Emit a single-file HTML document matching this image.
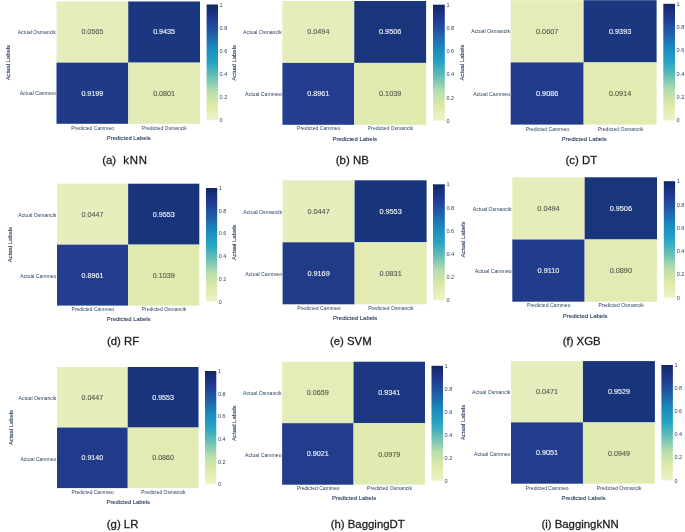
<!DOCTYPE html><html><head><meta charset="utf-8"><style>html,body{margin:0;padding:0;background:#fff;width:685px;height:532px;overflow:hidden}svg{display:block;filter:blur(0.4px)}text{font-family:"Liberation Sans",Arial,sans-serif}</style></head><body>
<svg width="685" height="532" viewBox="0 0 685 532">
<defs><linearGradient id="cg" x1="0" y1="0" x2="0" y2="1"><stop offset="0.000" stop-color="#142664"/><stop offset="0.125" stop-color="#203a92"/><stop offset="0.250" stop-color="#205ea8"/><stop offset="0.375" stop-color="#1a8abe"/><stop offset="0.500" stop-color="#26a4c2"/><stop offset="0.625" stop-color="#6ac0b6"/><stop offset="0.750" stop-color="#b9deac"/><stop offset="0.875" stop-color="#deeaa8"/><stop offset="1.000" stop-color="#eef3c8"/></linearGradient></defs>
<g>
<rect x="56.5" y="1.5" width="71.75" height="61.15" fill="#e5edba"/>
<rect x="128.25" y="1.5" width="71.75" height="61.15" fill="#1a377f"/>
<rect x="56.5" y="62.65" width="71.75" height="61.15" fill="#1f3a87"/>
<rect x="128.25" y="62.65" width="71.75" height="61.15" fill="#e2ebb5"/>
<text x="92.38" y="31.58" text-anchor="middle" dominant-baseline="central" font-size="7.2" fill="#565b4c" stroke="#565b4c" stroke-width="0.12">0.0565</text>
<text x="164.12" y="31.58" text-anchor="middle" dominant-baseline="central" font-size="7.2" fill="#f4f6fa" stroke="#f4f6fa" stroke-width="0.12">0.9435</text>
<text x="92.38" y="93.22" text-anchor="middle" dominant-baseline="central" font-size="7.2" fill="#f4f6fa" stroke="#f4f6fa" stroke-width="0.12">0.9199</text>
<text x="164.12" y="93.22" text-anchor="middle" dominant-baseline="central" font-size="7.2" fill="#565b4c" stroke="#565b4c" stroke-width="0.12">0.0801</text>
<text x="55.9" y="31.85" text-anchor="end" dominant-baseline="central" font-size="5.1" fill="#2a3f5f">Actual Osmancik</text>
<text x="55.9" y="93.3" text-anchor="end" dominant-baseline="central" font-size="5.1" fill="#2a3f5f">Actual Cammeo</text>
<text x="92.67" y="128" text-anchor="middle" dominant-baseline="central" font-size="5" fill="#2a3f5f">Predicted Cammeo</text>
<text x="164.43" y="128" text-anchor="middle" dominant-baseline="central" font-size="5" fill="#2a3f5f">Predicted Osmancik</text>
<text x="128.75" y="137.8" text-anchor="middle" dominant-baseline="central" font-size="5.9" fill="#2a3f5f" stroke="#2a3f5f" stroke-width="0.12">Predicted Labels</text>
<text x="8.5" y="62.65" text-anchor="middle" dominant-baseline="central" font-size="5.9" fill="#2a3f5f" stroke="#2a3f5f" stroke-width="0.12" transform="rotate(-90 8.5 62.65)">Actual Labels</text>
<rect x="206.6" y="4.5" width="11.4" height="115.8" fill="url(#cg)"/>
<text x="219.6" y="120.3" dominant-baseline="central" font-size="5.5" fill="#2a3f5f">0</text>
<text x="219.6" y="97.14" dominant-baseline="central" font-size="5.5" fill="#2a3f5f">0.2</text>
<text x="219.6" y="73.98" dominant-baseline="central" font-size="5.5" fill="#2a3f5f">0.4</text>
<text x="219.6" y="50.82" dominant-baseline="central" font-size="5.5" fill="#2a3f5f">0.6</text>
<text x="219.6" y="27.66" dominant-baseline="central" font-size="5.5" fill="#2a3f5f">0.8</text>
<text x="219.6" y="4.5" dominant-baseline="central" font-size="5.5" fill="#2a3f5f">1</text>
</g>
<text y="164.1" font-size="11.4" fill="#1e1e1e" stroke="#1e1e1e" stroke-width="0.3"><tspan x="102.2">(a)</tspan><tspan x="123.3" letter-spacing="0.8">kNN</tspan></text>
<g>
<rect x="282.4" y="1" width="71.85" height="61.9" fill="#e6edbb"/>
<rect x="354.25" y="1" width="71.85" height="61.9" fill="#19367d"/>
<rect x="282.4" y="62.9" width="71.85" height="61.9" fill="#243e8f"/>
<rect x="354.25" y="62.9" width="71.85" height="61.9" fill="#dfeaaf"/>
<text x="318.32" y="31.05" text-anchor="middle" dominant-baseline="central" font-size="7.29" fill="#565b4c" stroke="#565b4c" stroke-width="0.12">0.0494</text>
<text x="390.18" y="31.05" text-anchor="middle" dominant-baseline="central" font-size="7.29" fill="#f4f6fa" stroke="#f4f6fa" stroke-width="0.12">0.9506</text>
<text x="318.32" y="93.25" text-anchor="middle" dominant-baseline="central" font-size="7.29" fill="#f4f6fa" stroke="#f4f6fa" stroke-width="0.12">0.8961</text>
<text x="390.18" y="93.25" text-anchor="middle" dominant-baseline="central" font-size="7.29" fill="#565b4c" stroke="#565b4c" stroke-width="0.12">0.1039</text>
<text x="281.8" y="32.15" text-anchor="end" dominant-baseline="central" font-size="5.16" fill="#2a3f5f">Actual Osmancik</text>
<text x="281.8" y="94.35" text-anchor="end" dominant-baseline="central" font-size="5.16" fill="#2a3f5f">Actual Cammeo</text>
<text x="318.62" y="128.3" text-anchor="middle" dominant-baseline="central" font-size="5.06" fill="#2a3f5f">Predicted Cammeo</text>
<text x="390.48" y="128.3" text-anchor="middle" dominant-baseline="central" font-size="5.06" fill="#2a3f5f">Predicted Osmancik</text>
<text x="354.76" y="138.7" text-anchor="middle" dominant-baseline="central" font-size="5.97" fill="#2a3f5f" stroke="#2a3f5f" stroke-width="0.12">Predicted Labels</text>
<text x="233.81" y="62.9" text-anchor="middle" dominant-baseline="central" font-size="5.97" fill="#2a3f5f" stroke="#2a3f5f" stroke-width="0.12" transform="rotate(-90 233.81 62.9)">Actual Labels</text>
<rect x="433" y="4.7" width="11.8" height="116.1" fill="url(#cg)"/>
<text x="446.4" y="120.8" dominant-baseline="central" font-size="5.57" fill="#2a3f5f">0</text>
<text x="446.4" y="97.58" dominant-baseline="central" font-size="5.57" fill="#2a3f5f">0.2</text>
<text x="446.4" y="74.36" dominant-baseline="central" font-size="5.57" fill="#2a3f5f">0.4</text>
<text x="446.4" y="51.14" dominant-baseline="central" font-size="5.57" fill="#2a3f5f">0.6</text>
<text x="446.4" y="27.92" dominant-baseline="central" font-size="5.57" fill="#2a3f5f">0.8</text>
<text x="446.4" y="4.7" dominant-baseline="central" font-size="5.57" fill="#2a3f5f">1</text>
</g>
<text x="352.3" y="164.2" text-anchor="middle" font-size="11.4" fill="#1e1e1e" stroke="#1e1e1e" stroke-width="0.3">(b) NB</text>
<g>
<rect x="510.7" y="0.2" width="72.95" height="62.2" fill="#e5ecb9"/>
<rect x="583.65" y="0.2" width="72.95" height="62.2" fill="#1b3780"/>
<rect x="510.7" y="62.4" width="72.95" height="62.2" fill="#213c8b"/>
<rect x="583.65" y="62.4" width="72.95" height="62.2" fill="#e1ebb2"/>
<text x="547.17" y="31" text-anchor="middle" dominant-baseline="central" font-size="7.32" fill="#565b4c" stroke="#565b4c" stroke-width="0.12">0.0607</text>
<text x="620.12" y="31" text-anchor="middle" dominant-baseline="central" font-size="7.32" fill="#f4f6fa" stroke="#f4f6fa" stroke-width="0.12">0.9393</text>
<text x="547.17" y="93.2" text-anchor="middle" dominant-baseline="central" font-size="7.32" fill="#f4f6fa" stroke="#f4f6fa" stroke-width="0.12">0.9086</text>
<text x="620.12" y="93.2" text-anchor="middle" dominant-baseline="central" font-size="7.32" fill="#565b4c" stroke="#565b4c" stroke-width="0.12">0.0914</text>
<text x="510.1" y="31.25" text-anchor="end" dominant-baseline="central" font-size="5.19" fill="#2a3f5f">Actual Osmancik</text>
<text x="510.1" y="93.75" text-anchor="end" dominant-baseline="central" font-size="5.19" fill="#2a3f5f">Actual Cammeo</text>
<text x="547.47" y="128.5" text-anchor="middle" dominant-baseline="central" font-size="5.09" fill="#2a3f5f">Predicted Cammeo</text>
<text x="620.42" y="128.5" text-anchor="middle" dominant-baseline="central" font-size="5.09" fill="#2a3f5f">Predicted Osmancik</text>
<text x="584.16" y="138.9" text-anchor="middle" dominant-baseline="central" font-size="6" fill="#2a3f5f" stroke="#2a3f5f" stroke-width="0.12">Predicted Labels</text>
<text x="461.88" y="62.4" text-anchor="middle" dominant-baseline="central" font-size="6" fill="#2a3f5f" stroke="#2a3f5f" stroke-width="0.12" transform="rotate(-90 461.88 62.4)">Actual Labels</text>
<rect x="663.3" y="3.8" width="11.7" height="116.6" fill="url(#cg)"/>
<text x="676.6" y="120.4" dominant-baseline="central" font-size="5.59" fill="#2a3f5f">0</text>
<text x="676.6" y="97.08" dominant-baseline="central" font-size="5.59" fill="#2a3f5f">0.2</text>
<text x="676.6" y="73.76" dominant-baseline="central" font-size="5.59" fill="#2a3f5f">0.4</text>
<text x="676.6" y="50.44" dominant-baseline="central" font-size="5.59" fill="#2a3f5f">0.6</text>
<text x="676.6" y="27.12" dominant-baseline="central" font-size="5.59" fill="#2a3f5f">0.8</text>
<text x="676.6" y="3.8" dominant-baseline="central" font-size="5.59" fill="#2a3f5f">1</text>
</g>
<text x="581.4" y="164.2" text-anchor="middle" font-size="11.4" fill="#1e1e1e" stroke="#1e1e1e" stroke-width="0.3">(c) DT</text>
<g>
<rect x="57" y="183.7" width="71.15" height="60.95" fill="#e7edbc"/>
<rect x="128.15" y="183.7" width="71.15" height="60.95" fill="#18357b"/>
<rect x="57" y="244.65" width="71.15" height="60.95" fill="#243e8f"/>
<rect x="128.15" y="244.65" width="71.15" height="60.95" fill="#dfeaaf"/>
<text x="92.58" y="214.78" text-anchor="middle" dominant-baseline="central" font-size="7.18" fill="#565b4c" stroke="#565b4c" stroke-width="0.12">0.0447</text>
<text x="163.73" y="214.78" text-anchor="middle" dominant-baseline="central" font-size="7.18" fill="#f4f6fa" stroke="#f4f6fa" stroke-width="0.12">0.9553</text>
<text x="92.58" y="275.73" text-anchor="middle" dominant-baseline="central" font-size="7.18" fill="#f4f6fa" stroke="#f4f6fa" stroke-width="0.12">0.8961</text>
<text x="163.73" y="275.73" text-anchor="middle" dominant-baseline="central" font-size="7.18" fill="#565b4c" stroke="#565b4c" stroke-width="0.12">0.1039</text>
<text x="56.4" y="214.75" text-anchor="end" dominant-baseline="central" font-size="5.08" fill="#2a3f5f">Actual Osmancik</text>
<text x="56.4" y="276" text-anchor="end" dominant-baseline="central" font-size="5.08" fill="#2a3f5f">Actual Cammeo</text>
<text x="92.88" y="309.2" text-anchor="middle" dominant-baseline="central" font-size="4.98" fill="#2a3f5f">Predicted Cammeo</text>
<text x="164.03" y="309.2" text-anchor="middle" dominant-baseline="central" font-size="4.98" fill="#2a3f5f">Predicted Osmancik</text>
<text x="128.65" y="319.3" text-anchor="middle" dominant-baseline="central" font-size="5.88" fill="#2a3f5f" stroke="#2a3f5f" stroke-width="0.12">Predicted Labels</text>
<text x="10.36" y="244.65" text-anchor="middle" dominant-baseline="central" font-size="5.88" fill="#2a3f5f" stroke="#2a3f5f" stroke-width="0.12" transform="rotate(-90 10.36 244.65)">Actual Labels</text>
<rect x="206" y="188" width="11.2" height="113.5" fill="url(#cg)"/>
<text x="218.8" y="301.5" dominant-baseline="central" font-size="5.48" fill="#2a3f5f">0</text>
<text x="218.8" y="278.8" dominant-baseline="central" font-size="5.48" fill="#2a3f5f">0.2</text>
<text x="218.8" y="256.1" dominant-baseline="central" font-size="5.48" fill="#2a3f5f">0.4</text>
<text x="218.8" y="233.4" dominant-baseline="central" font-size="5.48" fill="#2a3f5f">0.6</text>
<text x="218.8" y="210.7" dominant-baseline="central" font-size="5.48" fill="#2a3f5f">0.8</text>
<text x="218.8" y="188" dominant-baseline="central" font-size="5.48" fill="#2a3f5f">1</text>
</g>
<text x="123.1" y="344.7" text-anchor="middle" font-size="11.4" fill="#1e1e1e" stroke="#1e1e1e" stroke-width="0.3">(d) RF</text>
<g>
<rect x="282.6" y="180.3" width="72" height="62" fill="#e7edbc"/>
<rect x="354.6" y="180.3" width="72" height="62" fill="#18357b"/>
<rect x="282.6" y="242.3" width="72" height="62" fill="#203b88"/>
<rect x="354.6" y="242.3" width="72" height="62" fill="#e2ebb4"/>
<text x="318.6" y="211" text-anchor="middle" dominant-baseline="central" font-size="7.3" fill="#565b4c" stroke="#565b4c" stroke-width="0.12">0.0447</text>
<text x="390.6" y="211" text-anchor="middle" dominant-baseline="central" font-size="7.3" fill="#f4f6fa" stroke="#f4f6fa" stroke-width="0.12">0.9553</text>
<text x="318.6" y="273" text-anchor="middle" dominant-baseline="central" font-size="7.3" fill="#f4f6fa" stroke="#f4f6fa" stroke-width="0.12">0.9169</text>
<text x="390.6" y="273" text-anchor="middle" dominant-baseline="central" font-size="7.3" fill="#565b4c" stroke="#565b4c" stroke-width="0.12">0.0831</text>
<text x="282" y="212" text-anchor="end" dominant-baseline="central" font-size="5.17" fill="#2a3f5f">Actual Osmancik</text>
<text x="282" y="274.3" text-anchor="end" dominant-baseline="central" font-size="5.17" fill="#2a3f5f">Actual Cammeo</text>
<text x="318.9" y="307.8" text-anchor="middle" dominant-baseline="central" font-size="5.07" fill="#2a3f5f">Predicted Cammeo</text>
<text x="390.9" y="307.8" text-anchor="middle" dominant-baseline="central" font-size="5.07" fill="#2a3f5f">Predicted Osmancik</text>
<text x="355.11" y="317.6" text-anchor="middle" dominant-baseline="central" font-size="5.98" fill="#2a3f5f" stroke="#2a3f5f" stroke-width="0.12">Predicted Labels</text>
<text x="233.93" y="242.3" text-anchor="middle" dominant-baseline="central" font-size="5.98" fill="#2a3f5f" stroke="#2a3f5f" stroke-width="0.12" transform="rotate(-90 233.93 242.3)">Actual Labels</text>
<rect x="433" y="184.3" width="11.8" height="116" fill="url(#cg)"/>
<text x="446.4" y="300.3" dominant-baseline="central" font-size="5.58" fill="#2a3f5f">0</text>
<text x="446.4" y="277.1" dominant-baseline="central" font-size="5.58" fill="#2a3f5f">0.2</text>
<text x="446.4" y="253.9" dominant-baseline="central" font-size="5.58" fill="#2a3f5f">0.4</text>
<text x="446.4" y="230.7" dominant-baseline="central" font-size="5.58" fill="#2a3f5f">0.6</text>
<text x="446.4" y="207.5" dominant-baseline="central" font-size="5.58" fill="#2a3f5f">0.8</text>
<text x="446.4" y="184.3" dominant-baseline="central" font-size="5.58" fill="#2a3f5f">1</text>
</g>
<text x="350.8" y="344.5" text-anchor="middle" font-size="11.4" fill="#1e1e1e" stroke="#1e1e1e" stroke-width="0.3">(e) SVM</text>
<g>
<rect x="512.3" y="177.3" width="72.35" height="62.2" fill="#e6edbb"/>
<rect x="584.65" y="177.3" width="72.35" height="62.2" fill="#19367d"/>
<rect x="512.3" y="239.5" width="72.35" height="62.2" fill="#213c8a"/>
<rect x="584.65" y="239.5" width="72.35" height="62.2" fill="#e1ebb3"/>
<text x="548.47" y="208.1" text-anchor="middle" dominant-baseline="central" font-size="7.32" fill="#565b4c" stroke="#565b4c" stroke-width="0.12">0.0494</text>
<text x="620.83" y="208.1" text-anchor="middle" dominant-baseline="central" font-size="7.32" fill="#f4f6fa" stroke="#f4f6fa" stroke-width="0.12">0.9506</text>
<text x="548.47" y="270" text-anchor="middle" dominant-baseline="central" font-size="7.32" fill="#f4f6fa" stroke="#f4f6fa" stroke-width="0.12">0.9110</text>
<text x="620.83" y="270" text-anchor="middle" dominant-baseline="central" font-size="7.32" fill="#565b4c" stroke="#565b4c" stroke-width="0.12">0.0890</text>
<text x="511.7" y="208.95" text-anchor="end" dominant-baseline="central" font-size="5.19" fill="#2a3f5f">Actual Osmancik</text>
<text x="511.7" y="271.45" text-anchor="end" dominant-baseline="central" font-size="5.19" fill="#2a3f5f">Actual Cammeo</text>
<text x="548.77" y="305.2" text-anchor="middle" dominant-baseline="central" font-size="5.09" fill="#2a3f5f">Predicted Cammeo</text>
<text x="621.12" y="305.2" text-anchor="middle" dominant-baseline="central" font-size="5.09" fill="#2a3f5f">Predicted Osmancik</text>
<text x="585.16" y="315.5" text-anchor="middle" dominant-baseline="central" font-size="6" fill="#2a3f5f" stroke="#2a3f5f" stroke-width="0.12">Predicted Labels</text>
<text x="463.48" y="239.5" text-anchor="middle" dominant-baseline="central" font-size="6" fill="#2a3f5f" stroke="#2a3f5f" stroke-width="0.12" transform="rotate(-90 463.48 239.5)">Actual Labels</text>
<rect x="663.8" y="181.2" width="11.3" height="116.6" fill="url(#cg)"/>
<text x="676.7" y="297.8" dominant-baseline="central" font-size="5.59" fill="#2a3f5f">0</text>
<text x="676.7" y="274.48" dominant-baseline="central" font-size="5.59" fill="#2a3f5f">0.2</text>
<text x="676.7" y="251.16" dominant-baseline="central" font-size="5.59" fill="#2a3f5f">0.4</text>
<text x="676.7" y="227.84" dominant-baseline="central" font-size="5.59" fill="#2a3f5f">0.6</text>
<text x="676.7" y="204.52" dominant-baseline="central" font-size="5.59" fill="#2a3f5f">0.8</text>
<text x="676.7" y="181.2" dominant-baseline="central" font-size="5.59" fill="#2a3f5f">1</text>
</g>
<text x="581.7" y="344.7" text-anchor="middle" font-size="11.4" fill="#1e1e1e" stroke="#1e1e1e" stroke-width="0.3">(f) XGB</text>
<g>
<rect x="57" y="367" width="70.75" height="60.55" fill="#e7edbc"/>
<rect x="127.75" y="367" width="70.75" height="60.55" fill="#18357b"/>
<rect x="57" y="427.55" width="70.75" height="60.55" fill="#203b89"/>
<rect x="127.75" y="427.55" width="70.75" height="60.55" fill="#e1ebb3"/>
<text x="92.38" y="397.57" text-anchor="middle" dominant-baseline="central" font-size="7.13" fill="#565b4c" stroke="#565b4c" stroke-width="0.12">0.0447</text>
<text x="163.12" y="397.57" text-anchor="middle" dominant-baseline="central" font-size="7.13" fill="#f4f6fa" stroke="#f4f6fa" stroke-width="0.12">0.9553</text>
<text x="92.38" y="457.53" text-anchor="middle" dominant-baseline="central" font-size="7.13" fill="#f4f6fa" stroke="#f4f6fa" stroke-width="0.12">0.9140</text>
<text x="163.12" y="457.53" text-anchor="middle" dominant-baseline="central" font-size="7.13" fill="#565b4c" stroke="#565b4c" stroke-width="0.12">0.0860</text>
<text x="56.4" y="397.65" text-anchor="end" dominant-baseline="central" font-size="5.05" fill="#2a3f5f">Actual Osmancik</text>
<text x="56.4" y="458.5" text-anchor="end" dominant-baseline="central" font-size="5.05" fill="#2a3f5f">Actual Cammeo</text>
<text x="92.67" y="492.2" text-anchor="middle" dominant-baseline="central" font-size="4.95" fill="#2a3f5f">Predicted Cammeo</text>
<text x="163.43" y="492.2" text-anchor="middle" dominant-baseline="central" font-size="4.95" fill="#2a3f5f">Predicted Osmancik</text>
<text x="128.25" y="501.9" text-anchor="middle" dominant-baseline="central" font-size="5.84" fill="#2a3f5f" stroke="#2a3f5f" stroke-width="0.12">Predicted Labels</text>
<text x="10.67" y="427.55" text-anchor="middle" dominant-baseline="central" font-size="5.84" fill="#2a3f5f" stroke="#2a3f5f" stroke-width="0.12" transform="rotate(-90 10.67 427.55)">Actual Labels</text>
<rect x="205" y="371" width="11.3" height="113.3" fill="url(#cg)"/>
<text x="217.9" y="484.3" dominant-baseline="central" font-size="5.45" fill="#2a3f5f">0</text>
<text x="217.9" y="461.64" dominant-baseline="central" font-size="5.45" fill="#2a3f5f">0.2</text>
<text x="217.9" y="438.98" dominant-baseline="central" font-size="5.45" fill="#2a3f5f">0.4</text>
<text x="217.9" y="416.32" dominant-baseline="central" font-size="5.45" fill="#2a3f5f">0.6</text>
<text x="217.9" y="393.66" dominant-baseline="central" font-size="5.45" fill="#2a3f5f">0.8</text>
<text x="217.9" y="371" dominant-baseline="central" font-size="5.45" fill="#2a3f5f">1</text>
</g>
<text x="122.6" y="527.6" text-anchor="middle" font-size="11.4" fill="#1e1e1e" stroke="#1e1e1e" stroke-width="0.3">(g) LR</text>
<g>
<rect x="282.1" y="361.7" width="71.45" height="61.5" fill="#e4ecb8"/>
<rect x="353.55" y="361.7" width="71.45" height="61.5" fill="#1c3882"/>
<rect x="282.1" y="423.2" width="71.45" height="61.5" fill="#233d8d"/>
<rect x="353.55" y="423.2" width="71.45" height="61.5" fill="#e0ebb1"/>
<text x="317.83" y="392.15" text-anchor="middle" dominant-baseline="central" font-size="7.24" fill="#565b4c" stroke="#565b4c" stroke-width="0.12">0.0659</text>
<text x="389.27" y="392.15" text-anchor="middle" dominant-baseline="central" font-size="7.24" fill="#f4f6fa" stroke="#f4f6fa" stroke-width="0.12">0.9341</text>
<text x="317.83" y="453.05" text-anchor="middle" dominant-baseline="central" font-size="7.24" fill="#f4f6fa" stroke="#f4f6fa" stroke-width="0.12">0.9021</text>
<text x="389.27" y="454.25" text-anchor="middle" dominant-baseline="central" font-size="7.24" fill="#565b4c" stroke="#565b4c" stroke-width="0.12">0.0979</text>
<text x="281.5" y="393.3" text-anchor="end" dominant-baseline="central" font-size="5.13" fill="#2a3f5f">Actual Osmancik</text>
<text x="281.5" y="455.1" text-anchor="end" dominant-baseline="central" font-size="5.13" fill="#2a3f5f">Actual Cammeo</text>
<text x="318.13" y="488.3" text-anchor="middle" dominant-baseline="central" font-size="5.03" fill="#2a3f5f">Predicted Cammeo</text>
<text x="389.57" y="488.3" text-anchor="middle" dominant-baseline="central" font-size="5.03" fill="#2a3f5f">Predicted Osmancik</text>
<text x="354.05" y="498.3" text-anchor="middle" dominant-baseline="central" font-size="5.93" fill="#2a3f5f" stroke="#2a3f5f" stroke-width="0.12">Predicted Labels</text>
<text x="233.83" y="423.2" text-anchor="middle" dominant-baseline="central" font-size="5.93" fill="#2a3f5f" stroke="#2a3f5f" stroke-width="0.12" transform="rotate(-90 233.83 423.2)">Actual Labels</text>
<rect x="431.5" y="365.8" width="11.5" height="115.1" fill="url(#cg)"/>
<text x="444.6" y="480.9" dominant-baseline="central" font-size="5.53" fill="#2a3f5f">0</text>
<text x="444.6" y="457.88" dominant-baseline="central" font-size="5.53" fill="#2a3f5f">0.2</text>
<text x="444.6" y="434.86" dominant-baseline="central" font-size="5.53" fill="#2a3f5f">0.4</text>
<text x="444.6" y="411.84" dominant-baseline="central" font-size="5.53" fill="#2a3f5f">0.6</text>
<text x="444.6" y="388.82" dominant-baseline="central" font-size="5.53" fill="#2a3f5f">0.8</text>
<text x="444.6" y="365.8" dominant-baseline="central" font-size="5.53" fill="#2a3f5f">1</text>
</g>
<text x="367.7" y="527.9" text-anchor="middle" font-size="11.4" fill="#1e1e1e" stroke="#1e1e1e" stroke-width="0.3">(h) BaggingDT</text>
<g>
<rect x="511" y="361.1" width="71.95" height="61.3" fill="#e6edbc"/>
<rect x="582.95" y="361.1" width="71.95" height="61.3" fill="#18357c"/>
<rect x="511" y="422.4" width="71.95" height="61.3" fill="#223d8c"/>
<rect x="582.95" y="422.4" width="71.95" height="61.3" fill="#e0ebb1"/>
<text x="546.98" y="391.15" text-anchor="middle" dominant-baseline="central" font-size="7.22" fill="#565b4c" stroke="#565b4c" stroke-width="0.12">0.0471</text>
<text x="618.93" y="391.15" text-anchor="middle" dominant-baseline="central" font-size="7.22" fill="#f4f6fa" stroke="#f4f6fa" stroke-width="0.12">0.9529</text>
<text x="546.98" y="452.15" text-anchor="middle" dominant-baseline="central" font-size="7.22" fill="#f4f6fa" stroke="#f4f6fa" stroke-width="0.12">0.9051</text>
<text x="618.93" y="453.05" text-anchor="middle" dominant-baseline="central" font-size="7.22" fill="#565b4c" stroke="#565b4c" stroke-width="0.12">0.0949</text>
<text x="510.4" y="392.4" text-anchor="end" dominant-baseline="central" font-size="5.11" fill="#2a3f5f">Actual Osmancik</text>
<text x="510.4" y="454" text-anchor="end" dominant-baseline="central" font-size="5.11" fill="#2a3f5f">Actual Cammeo</text>
<text x="547.27" y="488.2" text-anchor="middle" dominant-baseline="central" font-size="5.01" fill="#2a3f5f">Predicted Cammeo</text>
<text x="619.23" y="488.2" text-anchor="middle" dominant-baseline="central" font-size="5.01" fill="#2a3f5f">Predicted Osmancik</text>
<text x="583.45" y="498.1" text-anchor="middle" dominant-baseline="central" font-size="5.91" fill="#2a3f5f" stroke="#2a3f5f" stroke-width="0.12">Predicted Labels</text>
<text x="462.88" y="422.4" text-anchor="middle" dominant-baseline="central" font-size="5.91" fill="#2a3f5f" stroke="#2a3f5f" stroke-width="0.12" transform="rotate(-90 462.88 422.4)">Actual Labels</text>
<rect x="661.4" y="365" width="11.5" height="115.5" fill="url(#cg)"/>
<text x="674.5" y="480.5" dominant-baseline="central" font-size="5.51" fill="#2a3f5f">0</text>
<text x="674.5" y="457.4" dominant-baseline="central" font-size="5.51" fill="#2a3f5f">0.2</text>
<text x="674.5" y="434.3" dominant-baseline="central" font-size="5.51" fill="#2a3f5f">0.4</text>
<text x="674.5" y="411.2" dominant-baseline="central" font-size="5.51" fill="#2a3f5f">0.6</text>
<text x="674.5" y="388.1" dominant-baseline="central" font-size="5.51" fill="#2a3f5f">0.8</text>
<text x="674.5" y="365" dominant-baseline="central" font-size="5.51" fill="#2a3f5f">1</text>
</g>
<text x="580" y="527.9" text-anchor="middle" font-size="11.4" fill="#1e1e1e" stroke="#1e1e1e" stroke-width="0.3">(i) BaggingkNN</text>
</svg></body></html>
